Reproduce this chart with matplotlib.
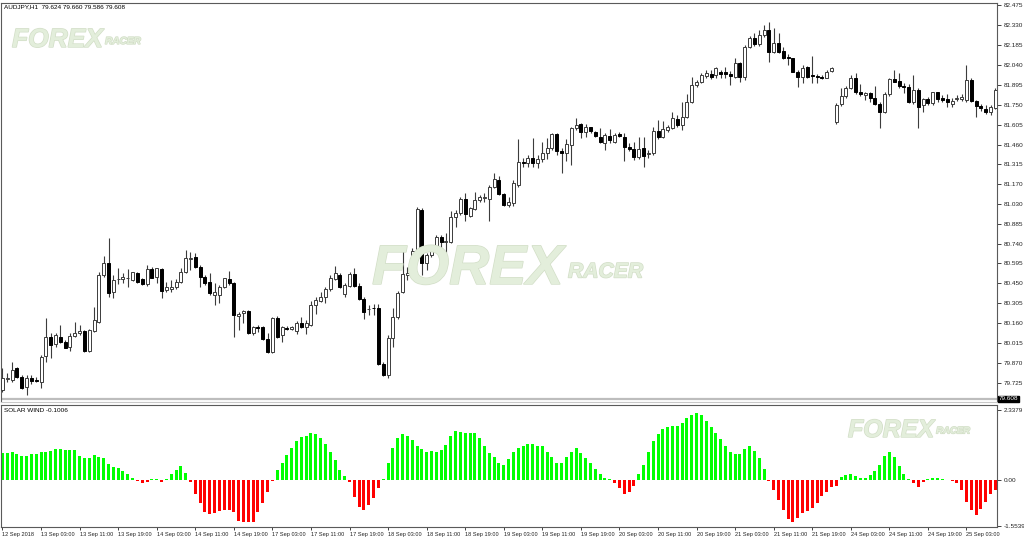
import matplotlib
matplotlib.use("Agg")
import matplotlib.pyplot as plt
import matplotlib.patheffects as pe

plt.rcParams["font.family"] = ["Liberation Sans", "DejaVu Sans"]

# AUDJPY H1 candles (oldest first)
opens = [
    79.675, 79.755, 79.748, 79.833, 79.772, 79.699, 79.760, 79.748, 79.736, 79.922,
    80.058, 80.007, 80.058, 80.022, 79.988, 80.070, 80.087, 80.104, 79.959, 80.104,
    80.172, 80.511, 80.596, 80.390, 80.480, 80.480, 80.487, 80.475, 80.523, 80.482,
    80.443, 80.555, 80.499, 80.553, 80.402, 80.407, 80.427, 80.463, 80.536, 80.630,
    80.645, 80.572, 80.494, 80.463, 80.366, 80.366, 80.427, 80.480, 80.451, 80.213,
    80.237, 80.252, 80.087, 80.131, 80.131, 80.044, 79.954, 80.196, 80.075, 80.128,
    80.116, 80.107, 80.165, 80.131, 80.148, 80.293, 80.325, 80.354, 80.407, 80.480,
    80.512, 80.370, 80.432, 80.519, 80.432, 80.335, 80.262, 80.270, 80.269, 79.864,
    79.784, 80.051, 80.204, 80.388, 80.512, 80.529, 80.689, 80.984, 80.601, 80.657,
    80.698, 80.786, 80.754, 80.754, 80.931, 80.960, 81.062, 80.941, 80.989, 81.057,
    81.069, 81.062, 81.149, 81.202, 81.100, 81.020, 81.032, 81.166, 81.336, 81.323,
    81.360, 81.328, 81.352, 81.396, 81.432, 81.537, 81.416, 81.396, 81.457, 81.578,
    81.609, 81.554, 81.585, 81.554, 81.517, 81.469, 81.522, 81.481, 81.534, 81.517,
    81.440, 81.425, 81.367, 81.432, 81.391, 81.396, 81.561, 81.512, 81.566, 81.583,
    81.646, 81.602, 81.663, 81.767, 81.893, 81.917, 81.961, 81.970, 81.966, 81.985,
    81.985, 81.970, 81.954, 82.050, 81.954, 82.172, 82.237, 82.189, 82.257, 82.293,
    82.135, 82.196, 82.140, 82.099, 82.087, 81.990, 81.954, 82.026, 81.966, 81.958,
    81.954, 81.946, 81.995, 81.626, 81.752, 81.815, 81.873, 81.941, 81.839, 81.820,
    81.832, 81.801, 81.752, 81.699, 81.825, 81.936, 81.922, 81.888, 81.881, 81.767,
    81.856, 81.747, 81.791, 81.759, 81.839, 81.796, 81.791, 81.752, 81.791, 81.791,
    81.784, 81.929, 81.776, 81.743, 81.718, 81.694, 81.728,
]
highs = [
    79.833, 79.796, 79.881, 79.845, 79.784, 79.784, 79.784, 79.772, 79.930, 80.196,
    80.087, 80.087, 80.148, 80.039, 80.087, 80.172, 80.148, 80.111, 80.119, 80.281,
    80.536, 80.652, 80.783, 80.511, 80.565, 80.523, 80.553, 80.536, 80.531, 80.492,
    80.584, 80.572, 80.565, 80.560, 80.463, 80.475, 80.480, 80.560, 80.693, 80.681,
    80.674, 80.584, 80.511, 80.524, 80.451, 80.439, 80.492, 80.543, 80.463, 80.245,
    80.257, 80.257, 80.141, 80.148, 80.141, 80.087, 80.204, 80.213, 80.141, 80.141,
    80.141, 80.179, 80.208, 80.184, 80.322, 80.349, 80.390, 80.427, 80.511, 80.577,
    80.524, 80.451, 80.536, 80.560, 80.451, 80.349, 80.293, 80.301, 80.301, 79.881,
    80.075, 80.269, 80.398, 80.693, 80.572, 80.706, 81.009, 80.996, 80.669, 80.706,
    80.803, 80.803, 80.815, 80.980, 80.984, 81.076, 81.110, 81.009, 81.118, 81.093,
    81.106, 81.166, 81.251, 81.231, 81.110, 81.081, 81.202, 81.498, 81.360, 81.384,
    81.505, 81.384, 81.481, 81.505, 81.542, 81.542, 81.432, 81.498, 81.590, 81.651,
    81.614, 81.609, 81.590, 81.561, 81.578, 81.542, 81.571, 81.542, 81.554, 81.542,
    81.474, 81.481, 81.512, 81.517, 81.420, 81.590, 81.639, 81.634, 81.602, 81.699,
    81.675, 81.767, 81.825, 81.954, 81.929, 81.978, 82.002, 82.002, 82.026, 82.002,
    82.026, 81.995, 82.092, 82.063, 82.184, 82.252, 82.269, 82.293, 82.329, 82.354,
    82.305, 82.269, 82.172, 82.116, 82.092, 82.002, 82.038, 82.034, 82.106, 81.970,
    81.966, 82.002, 82.026, 81.759, 81.869, 81.888, 81.966, 81.978, 81.898, 81.844,
    81.844, 81.888, 81.772, 81.839, 81.946, 82.002, 81.978, 81.905, 81.898, 81.966,
    81.869, 81.801, 81.808, 81.844, 81.844, 81.820, 81.825, 81.796, 81.820, 81.825,
    82.038, 81.946, 81.784, 81.752, 81.747, 81.747, 81.873,
]
lows = [
    79.663, 79.736, 79.736, 79.760, 79.682, 79.639, 79.716, 79.736, 79.687, 79.881,
    79.905, 79.990, 80.014, 79.978, 79.959, 80.063, 80.075, 79.954, 79.954, 80.094,
    80.160, 80.499, 80.354, 80.347, 80.443, 80.451, 80.426, 80.468, 80.451, 80.439,
    80.434, 80.487, 80.451, 80.347, 80.390, 80.390, 80.407, 80.456, 80.524, 80.548,
    80.560, 80.427, 80.439, 80.366, 80.293, 80.305, 80.414, 80.439, 80.063, 80.111,
    80.160, 80.082, 80.075, 80.099, 80.039, 79.947, 79.942, 80.051, 80.027, 80.111,
    80.111, 80.082, 80.124, 80.082, 80.141, 80.228, 80.318, 80.310, 80.398, 80.475,
    80.415, 80.354, 80.422, 80.422, 80.330, 80.189, 80.221, 80.221, 79.857, 79.777,
    79.760, 79.990, 80.189, 80.378, 80.475, 80.519, 80.669, 80.512, 80.548, 80.645,
    80.689, 80.621, 80.669, 80.742, 80.863, 80.948, 80.907, 80.931, 80.984, 81.045,
    81.045, 80.907, 81.142, 81.093, 81.013, 81.008, 81.013, 81.154, 81.299, 81.299,
    81.299, 81.287, 81.336, 81.352, 81.420, 81.384, 81.256, 81.343, 81.311, 81.566,
    81.505, 81.517, 81.546, 81.512, 81.474, 81.420, 81.474, 81.469, 81.512, 81.343,
    81.416, 81.348, 81.352, 81.299, 81.360, 81.384, 81.498, 81.505, 81.554, 81.573,
    81.590, 81.566, 81.650, 81.760, 81.881, 81.905, 81.946, 81.937, 81.941, 81.941,
    81.941, 81.893, 81.941, 81.917, 81.929, 82.160, 82.179, 82.179, 82.244, 82.063,
    82.123, 82.123, 82.082, 82.038, 81.985, 81.881, 81.905, 81.941, 81.905, 81.905,
    81.937, 81.941, 81.990, 81.607, 81.743, 81.801, 81.864, 81.825, 81.815, 81.784,
    81.772, 81.747, 81.583, 81.687, 81.815, 81.912, 81.869, 81.832, 81.759, 81.752,
    81.578, 81.694, 81.747, 81.747, 81.772, 81.767, 81.735, 81.735, 81.776, 81.776,
    81.772, 81.767, 81.662, 81.704, 81.679, 81.675, 81.718,
]
closes = [
    79.760, 79.760, 79.820, 79.772, 79.692, 79.765, 79.743, 79.740, 79.917, 80.058,
    80.002, 80.075, 80.022, 79.983, 80.068, 80.087, 80.104, 79.959, 80.111, 80.182,
    80.511, 80.596, 80.378, 80.475, 80.482, 80.494, 80.489, 80.531, 80.458, 80.443,
    80.555, 80.492, 80.560, 80.395, 80.426, 80.427, 80.463, 80.531, 80.633, 80.636,
    80.572, 80.494, 80.456, 80.378, 80.390, 80.427, 80.487, 80.451, 80.221, 80.228,
    80.252, 80.092, 80.131, 80.124, 80.044, 79.954, 80.196, 80.063, 80.131, 80.119,
    80.131, 80.165, 80.131, 80.160, 80.293, 80.330, 80.354, 80.407, 80.487, 80.524,
    80.427, 80.439, 80.519, 80.432, 80.335, 80.245, 80.265, 80.268, 79.864, 79.784,
    80.051, 80.209, 80.383, 80.519, 80.529, 80.689, 80.989, 80.601, 80.657, 80.698,
    80.786, 80.754, 80.756, 80.936, 80.960, 81.062, 80.955, 80.996, 81.057, 81.076,
    81.081, 81.154, 81.207, 81.100, 81.020, 81.045, 81.178, 81.336, 81.329, 81.360,
    81.328, 81.352, 81.401, 81.432, 81.537, 81.416, 81.401, 81.464, 81.578, 81.602,
    81.554, 81.590, 81.561, 81.522, 81.481, 81.529, 81.493, 81.529, 81.522, 81.440,
    81.425, 81.367, 81.425, 81.377, 81.401, 81.561, 81.512, 81.571, 81.590, 81.650,
    81.602, 81.663, 81.767, 81.893, 81.917, 81.966, 81.978, 81.954, 82.014, 81.975,
    81.970, 81.958, 82.050, 81.954, 82.172, 82.232, 82.189, 82.257, 82.293, 82.135,
    82.196, 82.135, 82.092, 82.087, 81.990, 81.954, 82.019, 81.954, 81.958, 81.951,
    81.946, 81.985, 82.014, 81.747, 81.815, 81.873, 81.946, 81.839, 81.825, 81.832,
    81.801, 81.752, 81.694, 81.825, 81.936, 81.917, 81.888, 81.881, 81.767, 81.856,
    81.735, 81.791, 81.759, 81.839, 81.791, 81.784, 81.767, 81.776, 81.801, 81.808,
    81.929, 81.776, 81.743, 81.723, 81.694, 81.735, 81.856,
]

# SOLAR WIND histogram, one value per candle
solar_wind = [
    0.91, 0.91, 0.92, 0.86, 0.80, 0.80, 0.86, 0.88, 0.92, 0.92,
    0.97, 1.05, 1.03, 1.01, 0.99, 1.00, 0.80, 0.72, 0.72, 0.84,
    0.77, 0.75, 0.52, 0.43, 0.41, 0.30, 0.21, 0.08, -0.05, -0.11,
    -0.08, 0.02, 0.02, -0.08, 0.02, 0.19, 0.32, 0.46, 0.23, -0.07,
    -0.48, -0.78, -1.07, -1.13, -1.10, -1.03, -0.99, -1.01, -1.08, -1.37,
    -1.40, -1.42, -1.39, -1.08, -0.77, -0.40, -0.03, 0.35, 0.58, 0.84,
    1.06, 1.30, 1.44, 1.47, 1.57, 1.55, 1.39, 1.19, 0.93, 0.67,
    0.33, 0.12, -0.08, -0.56, -0.89, -1.01, -0.84, -0.59, -0.28, 0.03,
    0.56, 1.08, 1.42, 1.54, 1.46, 1.35, 1.15, 1.04, 0.95, 0.97,
    0.95, 1.01, 1.17, 1.46, 1.64, 1.59, 1.57, 1.56, 1.57, 1.39,
    1.13, 0.89, 0.77, 0.57, 0.50, 0.70, 0.95, 1.06, 1.15, 1.22,
    1.22, 1.15, 1.13, 0.95, 0.77, 0.58, 0.57, 0.77, 0.95, 1.06,
    0.89, 0.75, 0.58, 0.37, 0.20, 0.06, 0.02, -0.10, -0.28, -0.48,
    -0.39, -0.19, 0.19, 0.50, 0.93, 1.30, 1.53, 1.69, 1.77, 1.81,
    1.82, 1.91, 2.06, 2.17, 2.23, 2.17, 1.97, 1.77, 1.58, 1.36,
    1.15, 0.93, 0.86, 0.86, 1.04, 1.15, 0.97, 0.72, 0.37, -0.02,
    -0.32, -0.67, -1.01, -1.30, -1.40, -1.28, -1.11, -1.03, -0.93, -0.78,
    -0.52, -0.39, -0.25, -0.19, 0.10, 0.17, 0.19, 0.12, 0.08, 0.08,
    0.17, 0.30, 0.50, 0.81, 0.95, 0.77, 0.48, 0.21, 0.03, -0.10,
    -0.22, -0.08, 0.02, 0.08, 0.08, 0.03, 0.01, -0.03, -0.11, -0.33,
    -0.72, -1.01, -1.17, -0.97, -0.75, -0.48, -0.32,
]

price_ticks = [82.475, 82.330, 82.185, 82.040, 81.895, 81.750, 81.605, 81.460,
               81.315, 81.170, 81.030, 80.885, 80.740, 80.595, 80.450, 80.305,
               80.160, 80.015, 79.870, 79.725]
sw_ticks = [2.3379, 0.0, -1.5539]
sw_tick_labels = ["2.3379", "0.00", "-1.5539"]
time_labels = ["12 Sep 2018", "13 Sep 03:00", "13 Sep 11:00", "13 Sep 19:00",
               "14 Sep 03:00", "14 Sep 11:00", "14 Sep 19:00", "17 Sep 03:00",
               "17 Sep 11:00", "17 Sep 19:00", "18 Sep 03:00", "18 Sep 11:00",
               "18 Sep 19:00", "19 Sep 03:00", "19 Sep 11:00", "19 Sep 19:00",
               "20 Sep 03:00", "20 Sep 11:00", "20 Sep 19:00", "21 Sep 03:00",
               "21 Sep 11:00", "21 Sep 19:00", "24 Sep 03:00", "24 Sep 11:00",
               "24 Sep 19:00", "25 Sep 03:00"]
bid = 79.608
header = "AUDJPY,H1  79.624 79.660 79.586 79.608"
indicator_name = "SOLAR WIND -0.1006"

W, H = 1024, 541
fig = plt.figure(figsize=(W / 100, H / 100), dpi=100)


def box(x0, y0, x1, y1):
    # pixel box (top-left origin) -> figure fraction
    return [x0 / W, 1 - y1 / H, (x1 - x0) / W, (y1 - y0) / H]


ax = fig.add_axes(box(1, 3, 997, 402))
ax2 = fig.add_axes(box(1, 405, 997, 527))

n = len(closes)
x = list(range(n))
xlim = (-0.31, 206.33)

# candles
wick_col = "#3c3c3c"
ax.vlines(x, lows, highs, color=wick_col, linewidth=0.8, zorder=2)
for i in range(n):
    o, c = opens[i], closes[i]
    lo = min(o, c)
    h = max(abs(c - o), 0.004)
    if c >= o:
        ax.bar(i, h, bottom=lo, width=0.62, color="white", edgecolor=wick_col,
               linewidth=0.7, zorder=3)
    else:
        ax.bar(i, h, bottom=lo, width=0.62, color="black", edgecolor="black",
               linewidth=0.7, zorder=3)

ax.axhline(bid, color="#bdbdbd", linewidth=1.6, zorder=1)
ax.set_xlim(*xlim)
ax.set_ylim(79.5877, 82.4895)
ax.yaxis.tick_right()
ax.set_yticks(price_ticks)
ax.set_yticklabels(["%.3f" % p for p in price_ticks])
ax.set_xticks([])
ax.tick_params(axis="y", length=3, width=0.6, pad=1.5, labelsize=4.6, colors="#222222")

# indicator
cols = ["#00ff00" if v >= 0 else "#ff0000" for v in solar_wind]
ax2.bar(x, solar_wind, width=0.62, color=cols, linewidth=0)
ax2.set_xlim(*xlim)
ax2.set_ylim(-1.572, 2.508)
ax2.yaxis.tick_right()
ax2.set_yticks(sw_ticks)
ax2.set_yticklabels(sw_tick_labels)
ax2.tick_params(axis="y", length=3, width=0.6, pad=1.5, labelsize=4.6, colors="#222222")
ax2.set_xticks(list(range(0, n, 8))[:len(time_labels)])
ax2.set_xticklabels(time_labels, ha="left")
ax2.tick_params(axis="x", length=2, width=0.6, pad=1.5, labelsize=4.1, colors="#222222")

for a in (ax, ax2):
    for s in a.spines.values():
        s.set_color("#5a5a5a")
        s.set_linewidth(0.8)
ax.spines["bottom"].set_color("#c8c8c8")

# header texts
fig.text(4 / W, 1 - 7 / H, header, fontsize=4.6, va="center", ha="left")
fig.text(4 / W, 1 - 411 / H, indicator_name, fontsize=4.6, va="center", ha="left")

# bid price box on the price scale
fig.text(999 / W, 1 - 399 / H, "%.3f" % bid, fontsize=4.6, color="white",
         va="center", ha="left",
         bbox=dict(boxstyle="square,pad=0.15", fc="black", ec="black"))


# FOREX RACER watermarks
def watermark(x0, y0, size):
    fx = dict(color="#e3eedb", fontweight="heavy", style="italic",
              path_effects=[pe.withStroke(linewidth=1.0, foreground="#d2dec7")])
    fig.text(x0 / W, 1 - y0 / H, "FOREX", fontsize=size, va="center",
             ha="left", zorder=0, **fx)
    fig.text((x0 + size * 4.9) / W, 1 - (y0 + size * 0.05) / H, "RACER",
             fontsize=size * 0.38, va="center", ha="left", zorder=0, **fx)


watermark(12, 40, 19)
watermark(372, 270, 40)
watermark(848, 430, 18)

fig.savefig("out.png", dpi=100)
